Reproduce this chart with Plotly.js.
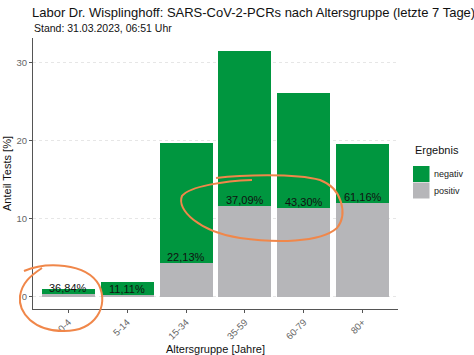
<!DOCTYPE html>
<html><head><meta charset="utf-8">
<script src="https://cdn.plot.ly/plotly-3.0.1.min.js"></script>
<style>body{margin:0;background:#fff}#chart{width:474px;height:355px}</style>
</head><body><div id="chart"></div>
<script>
const categories = ["0-4","5-14","15-34","35-59","60-79","80+"];
const positiv = [0.35, 0.21, 4.36, 11.68, 11.32, 11.98];
const negativ = [0.60, 1.72, 15.36, 19.82, 14.82, 7.61];
const labels = ["36,84%","11,11%","22,13%","37,09%","43,30%","61,16%"];

const green = "#00963f", grey = "#b6b6b9";
const L = 33, R = 398, T = 38, B = 309, W = 474, H = 355;
const px = x => (x - L) / (R - L);
const py = y => (B - y) / (B - T);
function pathFrom(pts){
  return pts.map(seg => {
    const c = seg[0]; const nums = seg.slice(1);
    let out = c;
    for (let i=0;i<nums.length;i+=2) out += (i? " ":"") + px(nums[i]).toFixed(4) + "," + py(nums[i+1]).toFixed(4);
    return out;
  }).join(" ");
}
const orange = "#f0874a";
const circle1 = pathFrom([["M",24,271],["C",45,262,86,262,99,285],["C",109,306,96,331,64,331],["C",34,331,18,313,20,296],["C",22,283,30,276,42,268]]);
const circle2 = pathFrom([["M",252,180],["C",225,181,190,186,182,196],["C",176,210,200,232,240,238],["C",275,243,320,243,337,228],["C",348,214,342,188,320,180],["C",295,173,240,175,216,178]]);

const traces = [
  {type:"bar", name:"positiv", x:categories, y:positiv, marker:{color:grey}, width:0.9, hoverinfo:"skip"},
  {type:"bar", name:"negativ", x:categories, y:negativ, marker:{color:green}, width:0.9, hoverinfo:"skip"}
];
const ann = categories.map((c,i)=>({x:c, y:positiv[i], xref:"x", yref:"y", text:labels[i], showarrow:false, yanchor:"bottom", yshift:-2, font:{family:"Liberation Sans, Arial", size:11, color:"#111"}}));
ann.push({xref:"paper", yref:"paper", x:px(413), y:py(150), xanchor:"left", yanchor:"middle", text:"Ergebnis", showarrow:false, font:{family:"Liberation Sans, Arial", size:11, color:"#111"}});
ann.push({xref:"paper", yref:"paper", x:px(432), y:py(174), xanchor:"left", yanchor:"middle", text:"negativ", showarrow:false, font:{family:"Liberation Sans, Arial", size:9, color:"#222"}});
ann.push({xref:"paper", yref:"paper", x:px(432), y:py(191), xanchor:"left", yanchor:"middle", text:"positiv", showarrow:false, font:{family:"Liberation Sans, Arial", size:9, color:"#222"}});
ann.push({xref:"paper", yref:"paper", x:px(32), y:py(28), xanchor:"left", yanchor:"middle", text:"Stand: 31.03.2023, 06:51 Uhr", showarrow:false, font:{family:"Liberation Sans, Arial", size:10.5, color:"#111"}});

const layout = {
  width:W, height:H, margin:{l:L, r:W-R, t:T, b:H-B},
  paper_bgcolor:"#fff", plot_bgcolor:"#fff",
  barmode:"stack", showlegend:false,
  font:{family:"Liberation Sans, Arial", color:"#111"},
  title:{text:"Labor Dr. Wisplinghoff: SARS-CoV-2-PCRs nach Altersgruppe (letzte 7 Tage)", x:32/W, xanchor:"left", xref:"container", y:1-12.5/H, yanchor:"middle", yref:"container", font:{size:13, color:"#111"}},
  xaxis:{type:"category", range:[-0.6,5.6], showline:true, linecolor:"#555", linewidth:1, ticks:"outside", ticklen:3, tickcolor:"#555", tickangle:-45, tickfont:{size:9.5, color:"#666"}, showgrid:false, zeroline:false,
         title:{text:"Altersgruppe [Jahre]", font:{size:11, color:"#111"}, standoff:6}},
  yaxis:{range:[-1.58,33.2], tickvals:[0,10,20,30], showline:true, linecolor:"#555", linewidth:1, ticks:"outside", ticklen:3, tickcolor:"#555", tickfont:{size:9.5, color:"#666"}, showgrid:true, gridcolor:"#e6e6e6", griddash:"dot", gridwidth:1, zeroline:false,
         title:{text:"Anteil Tests [%]", font:{size:11, color:"#111"}, standoff:2}},
  annotations:ann,
  shapes:[
    {type:"rect", xref:"paper", yref:"paper", x0:px(413), x1:px(429.5), y0:py(166), y1:py(182), fillcolor:green, line:{width:0}},
    {type:"rect", xref:"paper", yref:"paper", x0:px(413), x1:px(429.5), y0:py(182.5), y1:py(198.5), fillcolor:grey, line:{width:0}},
    {type:"path", xref:"paper", yref:"paper", path:circle1, line:{color:orange, width:2}, layer:"above"},
    {type:"path", xref:"paper", yref:"paper", path:circle2, line:{color:orange, width:2}, layer:"above"}
  ]
};
Plotly.newPlot("chart", traces, layout, {staticPlot:true, displayModeBar:false});
</script></body></html>
